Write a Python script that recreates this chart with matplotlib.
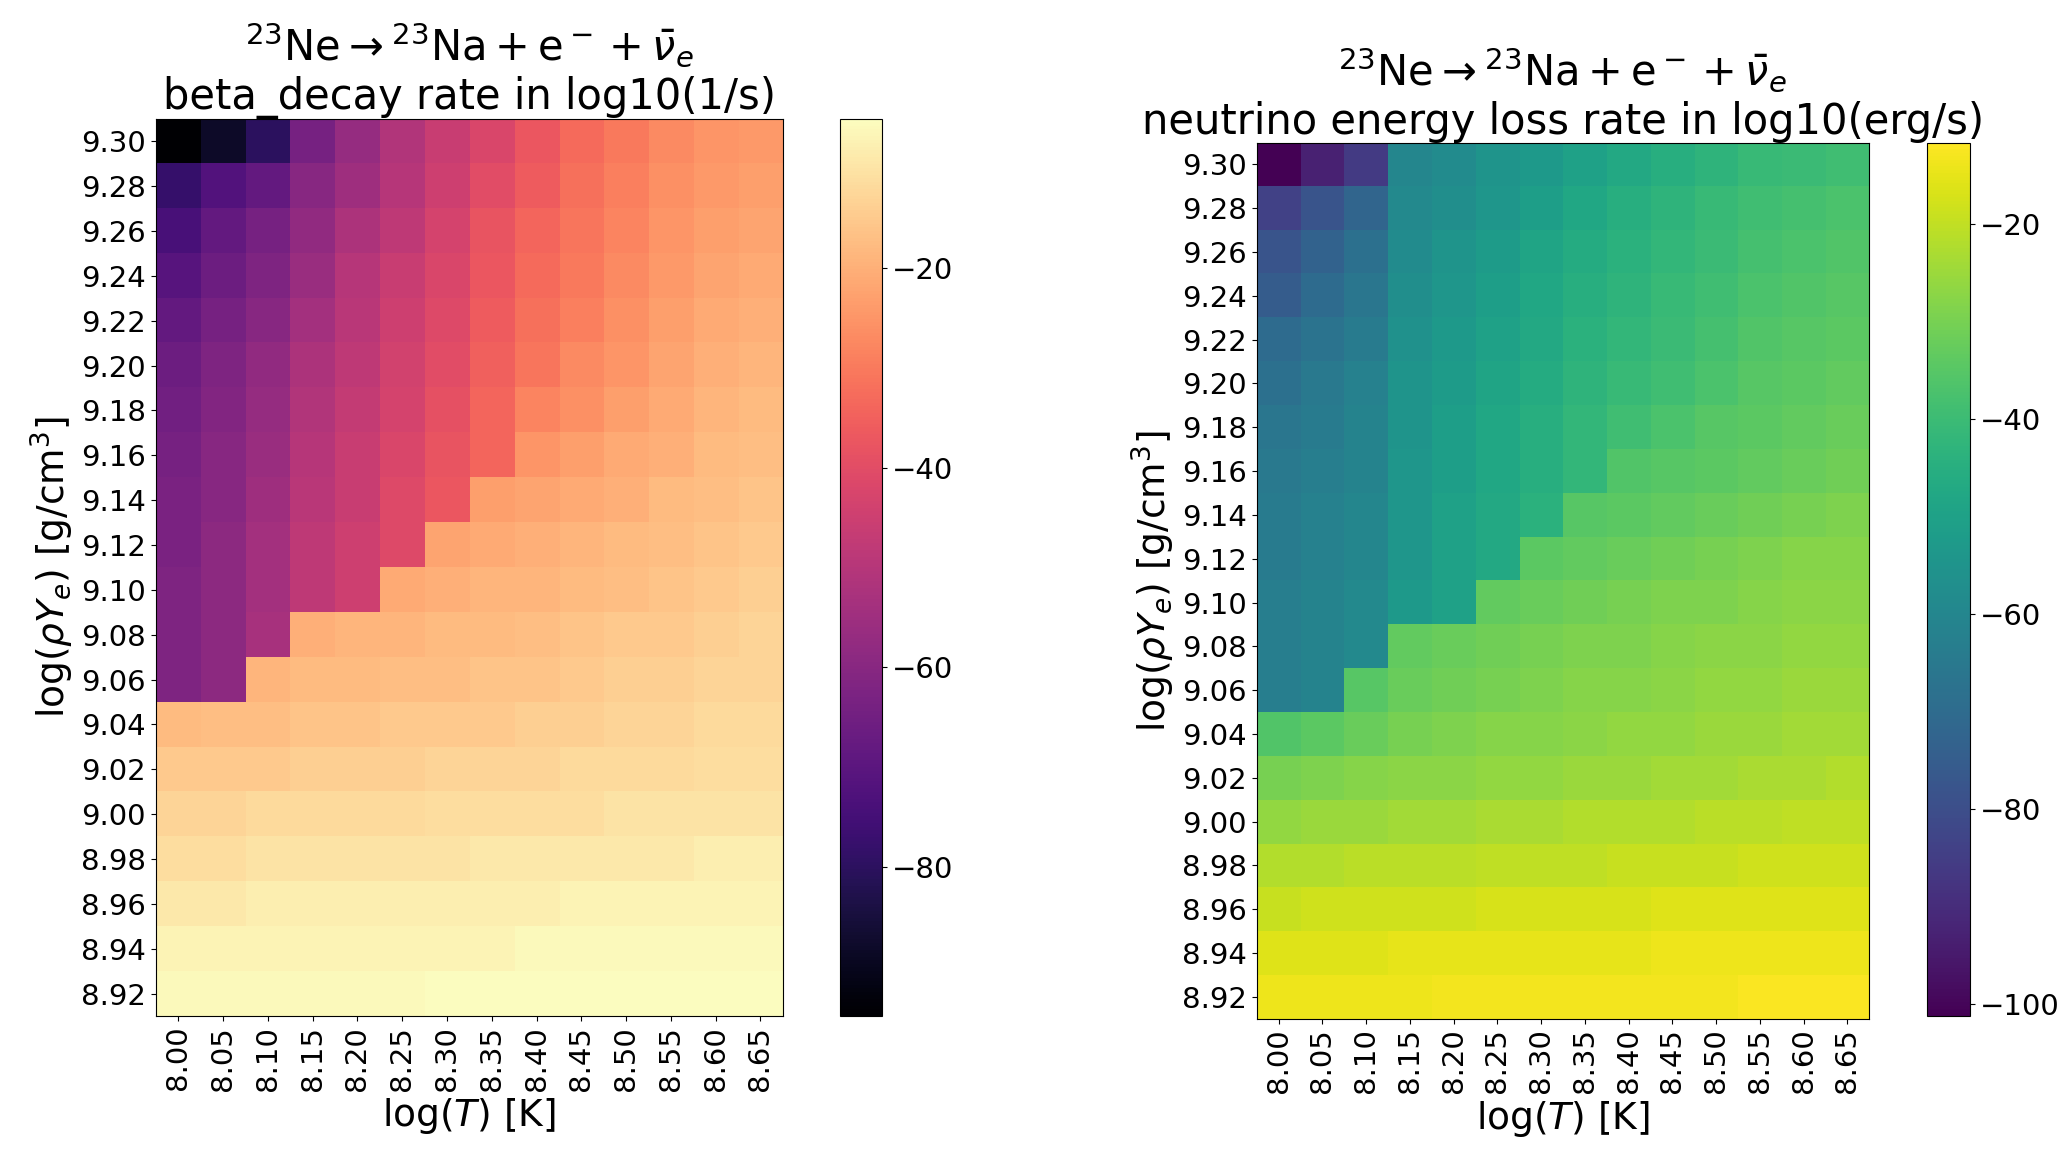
import matplotlib
matplotlib.use("Agg")
import matplotlib.pyplot as plt
import numpy as np

temps = ["8.00","8.05","8.10","8.15","8.20","8.25","8.30","8.35","8.40","8.45","8.50","8.55","8.60","8.65"]
dens = ["9.30","9.28","9.26","9.24","9.22","9.20","9.18","9.16","9.14","9.12","9.10","9.08","9.06","9.04","9.02","9.00","8.98","8.96","8.94","8.92"]

beta_rate = [
 [-95,-88,-80,-64,-57,-51,-46,-42,-37,-33,-30,-27,-25,-24],
 [-78,-72,-68,-60,-55,-50,-45,-40,-36,-32,-29,-26,-24,-23],
 [-74,-68,-64,-58,-52,-48,-43,-38,-34,-31,-28,-25,-23,-22],
 [-71,-66,-62,-56,-50,-46,-42,-37,-33,-30,-27,-24,-22,-21],
 [-68,-64,-60,-54,-49,-45,-41,-36,-32,-29,-26,-23,-21,-20],
 [-66,-62,-58,-52,-48,-44,-40,-35,-31,-27,-25,-22,-20,-19],
 [-65,-61,-57,-51,-47,-43,-39,-34,-28,-26,-23,-21,-19,-18],
 [-64,-60,-56,-50,-46,-42,-38,-34,-25,-23,-21,-20,-18,-17],
 [-63,-60,-55,-49,-46,-41,-37,-23,-22,-21,-20,-18,-17,-16],
 [-63,-59,-54,-48,-45,-41,-22,-21,-20,-19,-18,-17,-16,-15],
 [-62,-59,-54,-48,-45,-21,-20,-19,-19,-18,-17,-16,-15,-14],
 [-62,-59,-53,-20,-19,-19,-18,-18,-17,-16,-15,-15,-14,-13],
 [-62,-59,-19,-18,-18,-17,-17,-16,-16,-15,-14,-14,-13,-13],
 [-18,-17,-17,-16,-16,-15,-15,-15,-14,-14,-13,-13,-12,-12],
 [-15,-15,-15,-14,-14,-14,-13,-13,-13,-12,-12,-12,-11,-11],
 [-13,-13,-12,-12,-12,-12,-11,-11,-11,-11,-10,-10,-10,-10],
 [-11,-11,-10,-10,-10,-10,-10,-9,-9,-9,-9,-9,-8,-8],
 [-9,-9,-8,-8,-8,-8,-8,-8,-8,-7,-7,-7,-7,-7],
 [-7,-7,-7,-7,-7,-7,-7,-7,-6,-6,-6,-6,-6,-6],
 [-6,-6,-6,-6,-6,-6,-5,-5,-5,-5,-5,-5,-5,-5],
]

nu_loss = [
 [-101,-93,-86,-60,-58,-55,-53,-50,-47,-45,-43,-41,-40,-39],
 [-84,-78,-72,-59,-57,-54,-51,-48,-45,-43,-41,-39,-38,-37],
 [-78,-73,-68,-58,-55,-52,-49,-46,-44,-42,-40,-38,-37,-36],
 [-75,-70,-66,-57,-54,-51,-48,-45,-43,-41,-39,-37,-36,-35],
 [-70,-67,-64,-56,-53,-50,-47,-44,-42,-40,-38,-36,-35,-34],
 [-68,-65,-62,-55,-52,-49,-46,-43,-41,-39,-37,-35,-34,-33],
 [-66,-64,-61,-55,-51,-48,-45,-42,-39,-37,-35,-34,-33,-32],
 [-65,-63,-61,-54,-51,-48,-45,-42,-36,-35,-34,-33,-32,-31],
 [-64,-62,-60,-54,-50,-47,-44,-35,-34,-33,-32,-31,-30,-29],
 [-64,-62,-60,-54,-50,-47,-34,-33,-32,-31,-30,-29,-28,-28],
 [-63,-61,-59,-53,-50,-33,-32,-31,-30,-29,-29,-28,-27,-27],
 [-63,-61,-59,-33,-32,-31,-30,-29,-29,-28,-27,-27,-26,-26],
 [-63,-61,-35,-32,-31,-30,-29,-28,-28,-27,-26,-26,-25,-25],
 [-36,-34,-32,-30,-29,-28,-28,-27,-26,-26,-25,-25,-24,-24],
 [-30,-29,-28,-27,-27,-26,-26,-25,-25,-24,-24,-23,-23,-22],
 [-26,-25,-25,-24,-24,-23,-23,-22,-22,-22,-21,-21,-20,-20],
 [-22,-22,-21,-21,-21,-20,-20,-20,-19,-19,-19,-18,-18,-18],
 [-19,-18,-18,-18,-18,-17,-17,-17,-17,-16,-16,-16,-16,-16],
 [-16,-16,-16,-15,-15,-15,-15,-15,-15,-14,-14,-14,-14,-14],
 [-14,-14,-14,-14,-13,-13,-13,-13,-13,-13,-13,-12,-12,-12],
]

reaction = r"$^{23}\mathrm{Ne} \rightarrow {}^{23}\mathrm{Na} + \mathrm{e}^- + \bar{\nu}_e$"

fig = plt.figure(figsize=(20.7, 11.56), dpi=100)
W, H = 1568, 876
def rect(l, r, t, b):
    return [l/W, 1-b/H, (r-l)/W, (b-t)/H]

panels = [
    (beta_rate, "magma", -95, -5, rect(118,593,90,770), rect(636,668,90,770),
     "beta_decay rate in log10(1/s)", [-20,-40,-60,-80]),
    (nu_loss, "viridis", -101.2, -11.6, rect(952,1416,108,772), rect(1460,1492,108,770),
     "neutrino energy loss rate in log10(erg/s)", [-20,-40,-60,-80,-100]),
]
for data, cmap, vmin, vmax, ar, cr, title, cticks in panels:
    ax = fig.add_axes(ar)
    im = ax.imshow(np.array(data), cmap=cmap, vmin=vmin, vmax=vmax, aspect="auto", interpolation="nearest")
    ax.set_xticks(range(len(temps)))
    ax.set_xticklabels(temps, rotation=90, fontsize=21)
    ax.set_yticks(range(len(dens)))
    ax.set_yticklabels(dens, fontsize=21)
    ax.set_xlabel(r"log($T$) [K]", fontsize=27)
    ax.set_ylabel(r"log($\rho Y_e$) [g/cm$^3$]", fontsize=27)
    ax.set_title(reaction + "\n" + title, fontsize=30)
    cax = fig.add_axes(cr)
    cb = fig.colorbar(im, cax=cax)
    cb.set_ticks(cticks)
    cb.ax.tick_params(labelsize=21)

fig.savefig("out.png", dpi=100)
